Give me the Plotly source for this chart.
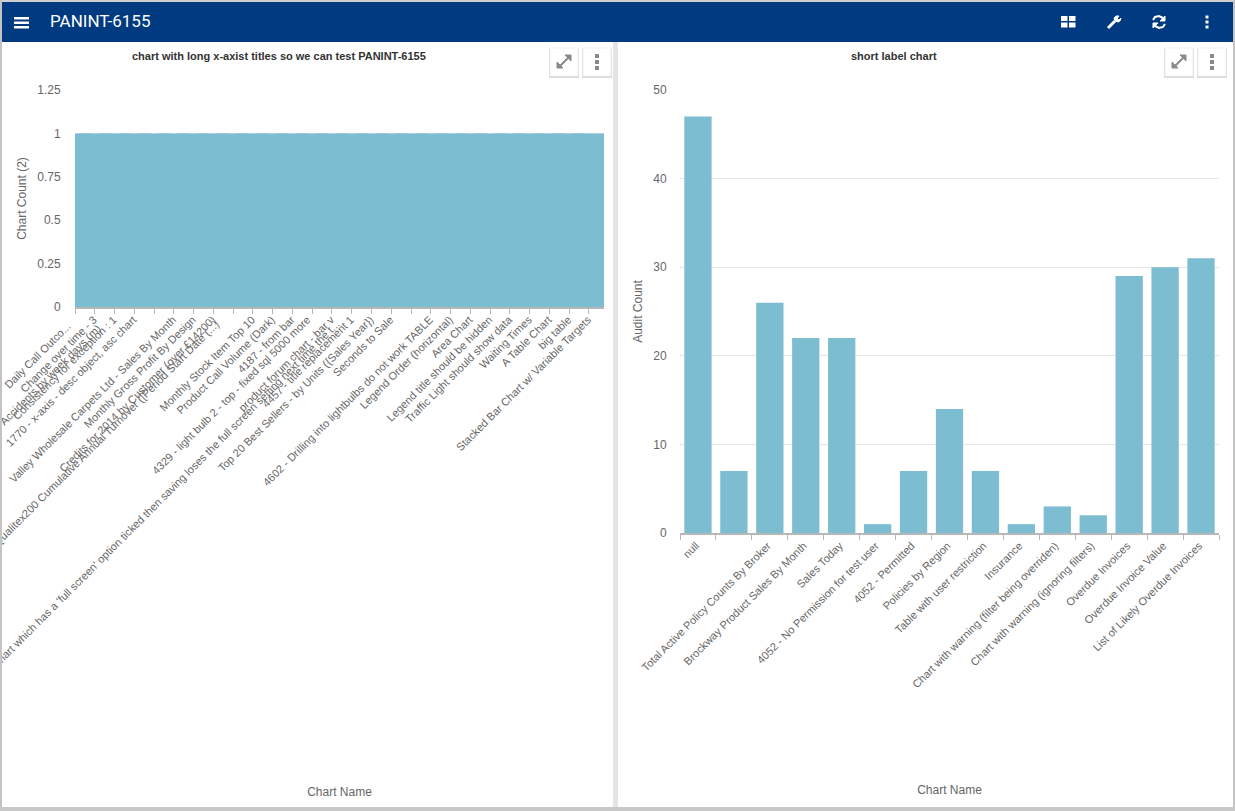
import plotly.graph_objects as go

W = 1235
H = 811
PAD = "\u00a0"

# left chart
# some labels stop short of the axis in the reference, the trailing padding keeps that
left_labels = [
    "Daily Call Outco..." + PAD * 3, "Change over time - 3", "Accidents by week days (m)" + PAD * 4,
    "Consistency for exception : 1", "1770 - x-axis - desc object, asc chart",
    "Valley Wholesale Carpets Ltd - Sales By Month", "Monthly Gross Profit By Design",
    "Credits for 2014 by Customer (over £14200)",
    "Qualitex200 Cumulative Annual Turnover ([Period Start Date (...)" + PAD * 2,
    "Monthly Stock Item Top 10", "Product Call Volume (Dark)", "4187 - from bar",
    "4329 - light bulb 2 - top - fixed sql 5000 more",
    "chart which has a 'full screen' option ticked then saving loses the full screen setting next time the t..." + PAD * 2,
    "product forum chart - bar v", "4457 - title replacement 1",
    "Top 20 Best Sellers - by Units ({Sales Year})", "Seconds to Sale",
    "4602 - Drilling into lightbulbs do not work TABLE", "Legend Order (horizontal)",
    "Area Chart", "Legend title should be hidden", "Traffic Light should show data",
    "Waiting Times", "A Table Chart", "big table", "Stacked Bar Chart w/ Variable Targets",
]
# the reference has labels piled on the same tick, so they get their own slots
left_slots = [0, 1, 1.63, 2, 3, 5, 6, 7, 7.4, 9, 10, 11, 11.8, 13.5, 13, 14, 15, 16,
              18, 19, 20, 21, 22, 23, 24, 25, 26]
left_values = [1] * 27
left_ticks = list(range(27))

# right chart
right_labels = [
    "null", " ", "Total Active Policy Counts By Broker", "Brockway Product Sales By Month",
    "Sales Today", "4052 - No Permission for test user", "4052 - Permitted",
    "Policies by Region", "Table with user restriction", "Insurance",
    "Chart with warning (filter being overriden)", "Chart with warning (ignoring filters)",
    "Overdue Invoices", "Overdue Invoice Value", "List of Likely Overdue Invoices",
]
right_values = [47, 7, 26, 22, 22, 1, 7, 14, 7, 1, 3, 2, 29, 30, 31]

BAR = "#7dbdd2"
GRID = "#e6e6e6"
AXIS = "#b8b8b8"
TEXT = "#666666"
NAVY = "#003a80"
ICON = "#8a8a8a"
FONT = "Liberation Sans"


def px(x):
    return x / W


def py_(y):
    return 1 - y / H


def box(x0, y0, x1, y1, fill, line=None):
    return dict(type="rect", xref="paper", yref="paper", layer="above",
                x0=px(x0), x1=px(x1), y0=py_(y1), y1=py_(y0), fillcolor=fill,
                line=dict(color=line or fill, width=1 if line else 0))


def path(points, color, width=2, fill=None):
    d = "M " + " L ".join(f"{px(a):.5f},{py_(b):.5f}" for a, b in points)
    if fill:
        d += " Z"
    return dict(type="path", xref="paper", yref="paper", layer="above", path=d,
                fillcolor=fill, line=dict(color=color, width=width))


def dots(cx, cy, color, gap=5, size=3):
    return [box(cx - size / 2, cy + k * gap - size / 2, cx + size / 2, cy + k * gap + size / 2, color)
            for k in (-1, 0, 1)]


def button_icons(x):
    out = []
    for left in (x, x + 33):
        out.append(box(left - 1, 48, left + 29, 78, "#d9d9d9"))
        out.append(box(left, 48, left + 28, 76, "#ffffff", "#efefef"))
    out.append(path([(x + 9, 67), (x + 20, 56)], ICON, 2))
    out.append(path([(x + 15, 55), (x + 21, 55), (x + 21, 61)], ICON, 1, ICON))
    out.append(path([(x + 7, 62), (x + 7, 68), (x + 13, 68)], ICON, 1, ICON))
    return out + dots(x + 47, 62, ICON, gap=6, size=4)


shapes = [
    box(0, 0, 1235, 2, "#d0d0d0"),
    box(2, 2, 1233, 42, NAVY),
    box(0, 0, 2, 811, "#c4c4c4"),
    box(1233, 0, 1235, 811, "#c4c4c4"),
    box(613, 42, 618, 808, "#e4e4e4"),
    box(0, 807, 1235, 811, "#c8c8c8"),
    # hamburger
    box(14, 17, 29, 19.5, "#ffffff"), box(14, 21.5, 29, 24, "#ffffff"), box(14, 26, 29, 28.5, "#ffffff"),
    # dashboard grid
    box(1061, 16, 1067.5, 21, "#ffffff"), box(1069, 16, 1075.5, 21, "#ffffff"),
    box(1061, 22.5, 1067.5, 27.5, "#ffffff"), box(1069, 22.5, 1075.5, 27.5, "#ffffff"),
    # wrench
    path([(1108, 28), (1115, 21)], "#ffffff", 3),
    path([(1115, 21), (1114, 18), (1116, 16), (1119, 16), (1117, 19), (1119, 20), (1121, 18),
          (1120, 21), (1118, 22)], "#ffffff", 1, "#ffffff"),
    # refresh
    path([(1153, 20), (1155, 17), (1159, 16), (1163, 18)], "#ffffff", 2),
    path([(1165, 16), (1165, 21), (1160, 21)], "#ffffff", 1, "#ffffff"),
    path([(1165, 24), (1163, 27), (1159, 28), (1155, 26)], "#ffffff", 2),
    path([(1153, 28), (1153, 23), (1158, 23)], "#ffffff", 1, "#ffffff"),
]
shapes += dots(1207, 22, "#ffffff", gap=5, size=3)
shapes += button_icons(550) + button_icons(1165)

fig = go.Figure()
fig.add_trace(go.Bar(x=left_ticks, y=left_values, xaxis="x", yaxis="y", width=1.6,
                     marker=dict(color=BAR, line=dict(width=0)), hoverinfo="x+y"))
fig.add_trace(go.Bar(x=right_labels, y=right_values, xaxis="x2", yaxis="y2",
                     marker=dict(color=BAR, line=dict(width=0))))

tick_font = dict(family=FONT, size=12, color=TEXT)
label_font = dict(family=FONT, size=11, color=TEXT)
title_font = dict(family=FONT, size=12, color=TEXT)
common_y = dict(gridcolor=GRID, gridwidth=1, showline=False, zeroline=False, ticks="outside",
                tickcolor="rgba(0,0,0,0)", tickfont=tick_font, automargin=False)

fig.update_layout(
    width=W, height=H,
    margin=dict(l=0, r=0, t=0, b=0),
    paper_bgcolor="#ffffff", plot_bgcolor="#ffffff",
    showlegend=False, bargap=0.24,
    font=dict(family=FONT),
    shapes=shapes,
    xaxis=dict(domain=[px(75), px(604)], anchor="y", range=[0, 26.76], tickmode="array", automargin=False,
               tickvals=left_slots, ticktext=left_labels, tickangle=-45, tickfont=label_font,
               ticklabeloverflow="allow", ticklabelshift=-1,
               ticks="", showgrid=False, zeroline=False, showline=True, linecolor=AXIS, linewidth=2,
               minor=dict(tickmode="array", tickvals=left_ticks, ticks="outside", ticklen=5,
                          tickcolor=AXIS, showgrid=False),
               title=dict(text="Chart Name", font=title_font, standoff=120)),
    yaxis=dict(domain=[py_(307), py_(90)], anchor="x", range=[0, 1.25], tickmode="array", ticklen=11,
               tickvals=[0, 0.25, 0.5, 0.75, 1, 1.25], ticktext=["0", "0.25", "0.5", "0.75", "1", "1.25"],
               title=dict(text="Chart Count (2)", font=title_font, standoff=8), **common_y),
    xaxis2=dict(domain=[px(680), px(1219)], anchor="y2", type="category", tickangle=-45, tickfont=label_font,
                automargin=False, categoryorder="array", categoryarray=right_labels,
                ticklabeloverflow="allow", ticklabelshift=-2,
                tickson="boundaries", ticks="outside", ticklen=5, tickcolor=AXIS, showgrid=False,
                zeroline=False, showline=True, linecolor=AXIS, linewidth=2,
                title=dict(text="Chart Name", font=title_font, standoff=96)),
    yaxis2=dict(domain=[py_(533), py_(90)], anchor="x2", range=[0, 50], tickmode="array", ticklen=10,
                tickvals=[0, 10, 20, 30, 40, 50],
                title=dict(text="Audit Count", font=title_font, standoff=8), **common_y),
    annotations=[
        dict(text="PANINT-6155", x=px(48), y=py_(21), xref="paper", yref="paper", xanchor="left",
             yanchor="middle", showarrow=False, font=dict(family="Roboto", size=17, color="#ffffff")),
        dict(text="<b>chart with long x-axist titles so we can test PANINT-6155</b>", x=px(278.5), y=py_(56.5),
             xref="paper", yref="paper", xanchor="center", yanchor="middle", showarrow=False,
             font=dict(family=FONT, size=11, color="#333333")),
        dict(text="<b>short label chart</b>", x=px(893.5), y=py_(56.5), xref="paper", yref="paper",
             xanchor="center", yanchor="middle", showarrow=False,
             font=dict(family=FONT, size=11, color="#333333")),
    ],
)

fig.write_html("out.html", config=dict(displayModeBar=False),
               post_script="document.body.style.margin='0';")
